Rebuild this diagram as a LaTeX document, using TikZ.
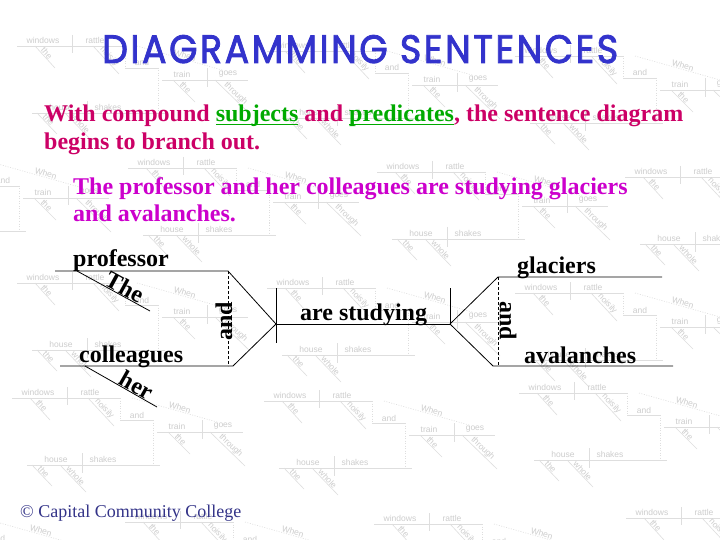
\documentclass[tikz,border=0pt]{standalone}
\usepackage{fontspec}
\usepackage{graphicx}
\setmainfont{Liberation Serif}
\newfontfamily\bgfont{Liberation Sans}
\newfontfamily\ttlfont{Poppins}[LetterSpace=7, FakeBold=2.2]
\definecolor{ttlblue}{RGB}{51,51,204}
\definecolor{crim}{RGB}{204,0,102}
\definecolor{magen}{RGB}{204,0,204}
\definecolor{grn}{RGB}{0,170,0}
\definecolor{navy}{RGB}{51,51,136}
\definecolor{bgline}{RGB}{222,222,222}
\definecolor{bgtext}{RGB}{205,205,205}
\newcommand\ulgreen[1]{\setbox0\hbox{#1}\rlap{\color{grn}\rule[-3.2pt]{\wd0}{1.5pt}}\box0}
\tikzset{
  bgl/.style={draw=bgline, line width=0.6pt},
  bgd/.style={draw=bgline, line width=0.6pt, dash pattern=on 1pt off 1.5pt},
  bgt/.style={text=bgtext, font=\bgfont\fontsize{8.5}{9}\selectfont, inner sep=0.4pt},
  ln/.style={draw=black, line width=0.8pt},
  dl/.style={draw=black, line width=0.8pt, dash pattern=on 3pt off 2pt},
  dw/.style={font=\fontsize{24}{28}\selectfont\bfseries, inner sep=0pt, text=black},
  txt/.style={font=\fontsize{24}{28}\selectfont\bfseries, inner sep=0pt, anchor=base west},
}
\newcommand\bgtile[3]{%
\begin{scope}[shift={(#1,#2)}]
\draw[bgl] (0,0) -- (108,0);
\draw[bgl] (55,-11) -- (55,7);
\node[bgt] (wi#3) at (26,-6) {windows};
\node[bgt] (ra#3) at (78,-6) {rattle};
\draw[bgl] (18,0) -- node[bgt,sloped,above,pos=0.45] (ta#3) {the} (38,22);
\draw[bgl] (76,0) -- node[bgt,sloped,above,pos=0.5] (no#3) {noisily} (102,28);
\draw[bgd] (108,0) -- (108,22);
\draw[bgl] (108,22) -- (141,22);
\node[bgt,anchor=base] (an#3) at (125,20) {and};
\draw[bgd] (141,22) -- (141,67);
\draw[bgl] (15,67) -- (148,67);
\draw[bgl] (70,55) -- (70,75);
\node[bgt] (ho#3) at (44,61) {house};
\node[bgt] (sh#3) at (91,61) {shakes};
\draw[bgl] (20,67) -- node[bgt,sloped,above,pos=0.45] (tb#3) {the} (40,88);
\draw[bgl] (48,67) -- node[bgt,sloped,above,pos=0.5] (wh#3) {whole} (74,94);
\draw[bgd] (120,0) -- node[bgt,sloped,above,pos=0.55] (we#3) {When} (205,24);
\draw[bgl] (145,34) -- (231,34);
\draw[bgl] (190,22) -- (190,41);
\node[bgt] (tr#3) at (165,28) {train};
\node[bgt] (go#3) at (211,28) {goes};
\draw[bgl] (156,34) -- node[bgt,sloped,above,pos=0.45] (tc#3) {the} (178,56);
\draw[bgl] (198,34) -- node[bgt,sloped,above,pos=0.5] (tg#3) {through} (233,68);
\end{scope}}
\begin{document}
\begin{tikzpicture}[x=1pt,y=-1pt]
\useasboundingbox[fill=white] (0,0) rectangle (720,540);
% background watermark
\begin{scope}
\clip (0,0) rectangle (720,540);
\bgtile{17}{46}{1}\bgtile{267}{51}{2}\bgtile{515}{56}{3}
\bgtile{-122}{164}{4}\bgtile{128}{168}{5}\bgtile{377}{172}{6}\bgtile{625}{177}{7}
\bgtile{17}{283}{8}\bgtile{267}{288}{9}\bgtile{515}{293}{10}
\bgtile{12}{398}{11}\bgtile{264}{401}{12}\bgtile{519}{393}{13}
\bgtile{-127}{521}{14}\bgtile{125}{522}{15}\bgtile{374}{524}{16}\bgtile{626}{518}{17}
\end{scope}
% title
\node[anchor=base west, inner sep=0pt, text=ttlblue] (title) at (102,63)
  {\resizebox{516pt}{28pt}{\ttlfont\fontsize{40}{44}\selectfont DIAGRAMMING SENTENCES}};
% intro
\node[txt, text=crim] (intro1) at (44,122) {With compound \textcolor{grn}{\ulgreen{subjects}} and \textcolor{grn}{\ulgreen{predicates}}, the sentence diagram};
\node[txt, text=crim] (intro2) at (44,150) {begins to branch out.};
% sentence
\node[txt, text=magen] (sent1) at (73,195) {The professor and her colleagues are studying glaciers};
\node[txt, text=magen] (sent2) at (73,222) {and avalanches.};
% diagram
\coordinate (p1) at (55,271); \coordinate (p2) at (228,271);
\coordinate (c1) at (60,366); \coordinate (c2) at (233,366); \coordinate (c3) at (228,366);
\coordinate (v) at (276,324); \coordinate (vt) at (276,288); \coordinate (vb) at (276,343);
\coordinate (ve) at (450,324); \coordinate (vet) at (450,288);
\coordinate (g1) at (498,277); \coordinate (g2) at (662,277); \coordinate (g3) at (498,366);
\coordinate (a1) at (493,366); \coordinate (a2) at (673,366);
\coordinate (pt1) at (77,271); \coordinate (pt2) at (150,311);
\coordinate (h1) at (85,366); \coordinate (h2) at (157,407);
\draw[ln] (p1) -- (p2) -- (v);
\draw[ln] (c1) -- (c2) -- (v);
\draw[dl] (p2) -- (c3);
\draw[ln] (vt) -- (vb);
\draw[ln] (v) -- (ve);
\draw[ln] (vet) -- (ve);
\draw[ln] (ve) -- (g1) -- (g2);
\draw[ln] (ve) -- (a1) -- (a2);
\draw[dl] (g1) -- (g3);
\draw[ln] (pt1) -- node[dw, sloped, above, pos=0.6] (the) {The} (pt2);
\draw[ln] (h1) -- node[dw, sloped, above, pos=0.66] (her) {her} (h2);
\node[txt] (prof) at (73,266) {professor};
\node[txt] (coll) at (79,362) {colleagues};
\node[txt] (verb) at (300,320) {are studying};
\node[txt] (glac) at (517,273) {glaciers};
\node[txt] (aval) at (524,363) {avalanches};
\node[dw, rotate=90] (andL) at (224,321) {and};
\node[dw, rotate=-90] (andR) at (508,321) {and};
% copyright
\node[anchor=base west, inner sep=0pt, text=navy, font=\fontsize{18}{20}\selectfont] (copy) at (20,517) {© Capital Community College};
\end{tikzpicture}
\end{document}
